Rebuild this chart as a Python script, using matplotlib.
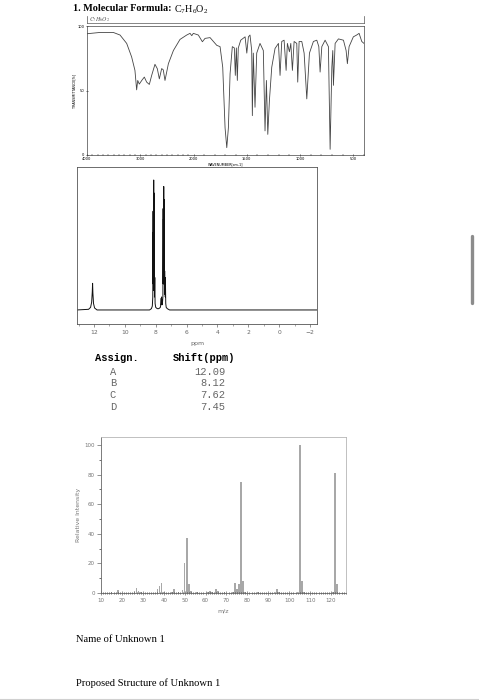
import numpy as np
import matplotlib
matplotlib.use("Agg")
import matplotlib.pyplot as plt
from matplotlib.lines import Line2D
from matplotlib.text import Annotation
from matplotlib.ticker import MultipleLocator, FixedLocator

formula = r"C$\mathregular{_7}$H$\mathregular{_6}$O$\mathregular{_2}$"

# IR spectrum (wavenumber cm-1, transmittance %)
ir_wn = [4000, 3756, 3506, 3380, 3255, 3162, 3100, 3068, 3048, 3018,
         2972, 2924, 2880, 2830, 2786, 2724, 2680, 2642, 2598, 2568,
         2536, 2472, 2378, 2254, 2128, 2066, 2033, 2004, 1955, 1917,
         1892, 1845, 1782, 1751, 1726, 1704, 1688, 1673, 1657, 1636,
         1617, 1608, 1598, 1589, 1580, 1557, 1516, 1500, 1485, 1470,
         1454, 1448, 1439, 1423, 1407, 1376, 1345, 1329, 1316, 1303,
         1288, 1266, 1235, 1203, 1188, 1172, 1150, 1131, 1119, 1100,
         1087, 1072, 1056, 1031, 1022, 1009, 984, 962, 937, 912,
         875, 843, 824, 812, 796, 765, 734, 718, 702, 693,
         687, 671, 640, 593, 568, 556, 540, 500, 469, 446,
         421, 400]
ir_t = [94, 95, 95, 93, 86.5, 76, 65.6, 50.5, 57.8, 55,
        57.8, 60.4, 56.5, 54.7, 61.7, 70.3, 66.9, 59, 67, 66,
        57.8, 70.8, 81, 89.6, 93, 94.3, 92.5, 94.3, 93, 87.8,
        90.4, 91, 85, 84, 68, 21, 5.7, 21, 63, 84,
        83, 61.7, 83, 57.8, 83, 89, 91.6, 79, 91.6, 93,
        81, 30.5, 79, 37, 79, 86.5, 81, 18.7, 57.8, 16,
        42, 68, 82.6, 86.5, 61.7, 88, 89, 65.6, 86.5, 80,
        86.5, 65.6, 88, 86.5, 56.5, 88, 88, 79, 43.5, 79,
        88, 89, 84, 64.3, 84, 89, 84, 4.4, 68, 81,
        54, 86.5, 90, 89, 81, 70.8, 84, 91.6, 93, 94.3,
        88, 86.5]
ir_ticks = [4000, 3000, 2000, 1500, 1000, 500]

# 1H NMR trace (ppm, relative intensity)
nmr_ppm = [13.1, 12.35, 12.22, 12.15, 12.11, 12.09, 12.07, 12.03, 11.96, 11.8,
           8.40, 8.28, 8.22, 8.19, 8.17, 8.16, 8.15, 8.14, 8.13, 8.12,
           8.11, 8.10, 8.09, 8.08, 8.06, 8.04, 8.00, 7.90, 7.80,
           7.70, 7.66, 7.645, 7.635, 7.62, 7.61, 7.595, 7.58, 7.56,
           7.535, 7.52, 7.51, 7.50, 7.49, 7.48, 7.47, 7.46, 7.45, 7.44,
           7.43, 7.42, 7.40, 7.39, 7.38, 7.37, 7.35, 7.32, 7.25, 7.10, -2.45]
nmr_int = [0, 0.005, 0.02, 0.06, 0.14, 0.205, 0.13, 0.05, 0.015, 0,
           0, 0.01, 0.03, 0.1, 0.76, 0.2, 0.6, 0.15, 1.0, 0.3,
           0.9, 0.2, 0.55, 0.1, 0.25, 0.05, 0.02, 0.01, 0.01,
           0.02, 0.05, 0.09, 0.04, 0.1, 0.05, 0.08, 0.04, 0.06,
           0.1, 0.78, 0.2, 0.7, 0.25, 0.95, 0.3, 0.85, 0.2, 0.6,
           0.15, 0.3, 0.12, 0.25, 0.1, 0.22, 0.05, 0.02, 0.01, 0, 0]
nmr_ticks = [12, 10, 8, 6, 4, 2, 0, -2]

assign = ["A", "B", "C", "D"]
shifts = [12.09, 8.12, 7.62, 7.45]

# mass spectrum (m/z, relative intensity)
ms_mz = [15, 18, 26, 27, 28, 29, 37, 38, 39, 40, 44, 45, 47, 49, 50, 51, 52, 53,
         56, 61, 62, 63, 65, 66, 69, 73, 74, 75, 76, 77, 78, 79, 85, 93, 94, 95,
         104, 105, 106, 107, 121, 122, 123]
ms_int = [0.5, 2.2, 1.2, 3.5, 1.5, 0.6, 3, 5, 7, 1, 0.8, 3, 0.8, 2, 20, 37, 6, 1.5,
          0.5, 1, 1.5, 1, 2.5, 1.5, 0.5, 1, 7, 3, 6, 75, 8, 1, 0.6, 1, 3, 1,
          1, 100, 8, 0.6, 1, 81, 6]

W, H = 479, 700


def fx(px):
    return px / W


def fy(py):
    return 1 - py / H


def box(x0, y0, x1, y1):
    return [fx(x0), fy(y1), (x1 - x0) / W, (y1 - y0) / H]


plt.rcParams["mathtext.fontset"] = "stix"
fig = plt.figure(figsize=(W / 100, H / 100), dpi=100)
fig.patch.set_facecolor("white")

serif = "Liberation Serif"
mono = "Liberation Mono"

# title
t = fig.text(fx(73), fy(11), "1. Molecular Formula:", family=serif,
             weight="bold", size=7.3, va="baseline")
fig.add_artist(Annotation(formula, xy=(1, 0), xycoords=t,
                          xytext=(2, 0), textcoords="offset points",
                          family=serif, size=7.3, va="baseline"))

# ---- IR ----
ax1 = fig.add_axes(box(87, 26, 364, 155))


def fwd(w):
    w = np.asarray(w, float)
    return np.where(w <= 2000, w, 2000 + (w - 2000) / 2)


def inv(g):
    g = np.asarray(g, float)
    return np.where(g <= 2000, g, 2000 + 2 * (g - 2000))


ax1.set_xscale("function", functions=(fwd, inv))
ax1.plot(ir_wn, ir_t, color="#444444", lw=0.6)
ax1.set_xlim(4000, 400)
ax1.set_ylim(0, 100)
ax1.xaxis.set_major_locator(FixedLocator(ir_ticks))
ax1.set_xticklabels([str(v) for v in ir_ticks])
ax1.xaxis.set_minor_locator(FixedLocator(list(range(400, 4001, 100))))
ax1.set_yticks([0, 50, 100])
ax1.tick_params(labelsize=2.6, length=1.5, width=0.4, pad=1, direction="inout")
ax1.tick_params(which="minor", length=1.2, width=0.3, direction="inout")
ax1.set_xlabel("WAVENUMBER[cm-1]", size=2.4, labelpad=0.5)
ax1.set_ylabel("TRANSMITTANCE[%]", size=2.4, labelpad=1)
for s in ax1.spines.values():
    s.set_linewidth(0.5)
    s.set_color("#444444")

# header bar above the IR plot
for (xa, xb), (ya, yb) in [((87, 364), (22.7, 22.7)), ((87, 87), (16, 22.7)),
                           ((364, 364), (16, 22.7))]:
    fig.add_artist(Line2D([fx(xa), fx(xb)], [fy(ya), fy(yb)],
                          color="#555555", lw=0.5))
fig.text(fx(89), fy(21.5), r"$C_7H_6O_2$", size=4.2, color="#555555", va="baseline")

# ---- NMR ----
ax2 = fig.add_axes(box(77, 167, 317, 324))
ax2.plot(nmr_ppm, nmr_int, color="#111111", lw=0.7)
ax2.set_xlim(13.1, -2.45)
ax2.set_ylim(-0.108, 1.1)
ax2.set_yticks([])
ax2.set_xticks(nmr_ticks)
ax2.xaxis.set_minor_locator(MultipleLocator(1))
ax2.tick_params(axis="x", labelsize=4.3, labelcolor="#666666", color="#666666",
                length=2.5, width=0.5, pad=2)
ax2.tick_params(axis="x", which="minor", length=1.5, width=0.4, color="#666666")
ax2.set_xlabel("ppm", size=4.5, color="#666666", labelpad=4)
for s in ax2.spines.values():
    s.set_linewidth(0.6)
    s.set_color("#555555")

# shift table
fig.text(fx(95), fy(358), "Assign.", family=mono, weight="bold", size=7.5, va="center")
fig.text(fx(173), fy(358), "Shift(ppm)", family=mono, weight="bold", size=7.5, va="center")
for i, (a, v) in enumerate(zip(assign, shifts)):
    yy = 371.7 + i * 11.7
    fig.text(fx(113), fy(yy), a, family=mono, size=7.5, color="#666666",
             ha="center", va="center")
    fig.text(fx(225.5), fy(yy), f"{v:.2f}", family=mono, size=7.5, color="#666666",
             ha="right", va="center")

# ---- Mass spectrum ----
ax3 = fig.add_axes(box(101, 437, 345.7, 593))
ax3.bar(ms_mz, ms_int, width=0.8, color="#a8a8a8", linewidth=0)
ax3.set_xlim(10, 127)
ax3.set_ylim(0, 105.4)
ax3.set_xticks(range(10, 121, 10))
ax3.xaxis.set_minor_locator(MultipleLocator(1))
ax3.set_yticks(range(0, 101, 20))
ax3.yaxis.set_minor_locator(MultipleLocator(10))
ax3.tick_params(labelsize=4.0, labelcolor="#777777", color="#666666",
                length=3, width=0.5, pad=1.5)
ax3.tick_params(axis="x", direction="inout", length=3.5)
ax3.tick_params(axis="x", which="minor", direction="inout", length=1.8, width=0.4)
ax3.tick_params(axis="y", which="minor", length=1.8, width=0.4)
ax3.set_xlabel("m/z", size=4.5, color="#777777", labelpad=4)
ax3.set_ylabel("Relative Intensity", size=4.4, color="#777777", labelpad=2)
ax3.spines["left"].set_color("#666666")
ax3.spines["bottom"].set_color("#666666")
ax3.spines["top"].set_color("#b5b5b5")
ax3.spines["right"].set_color("#b5b5b5")
for s in ax3.spines.values():
    s.set_linewidth(0.6)

# worksheet prompts
fig.text(fx(76), fy(640), "Name of Unknown 1", family=serif, size=7.6, va="center")
fig.text(fx(76), fy(683), "Proposed Structure of Unknown 1", family=serif, size=7.6,
         va="center")

# page scrollbar + bottom rule
fig.add_artist(Line2D([fx(472), fx(472)], [fy(236), fy(303)], color="#8c8c8c",
                      lw=2.4, solid_capstyle="round"))
fig.add_artist(Line2D([0, 1], [fy(698.5), fy(698.5)], color="#d0d0d0", lw=0.8))

fig.savefig("out.png", dpi=100)
